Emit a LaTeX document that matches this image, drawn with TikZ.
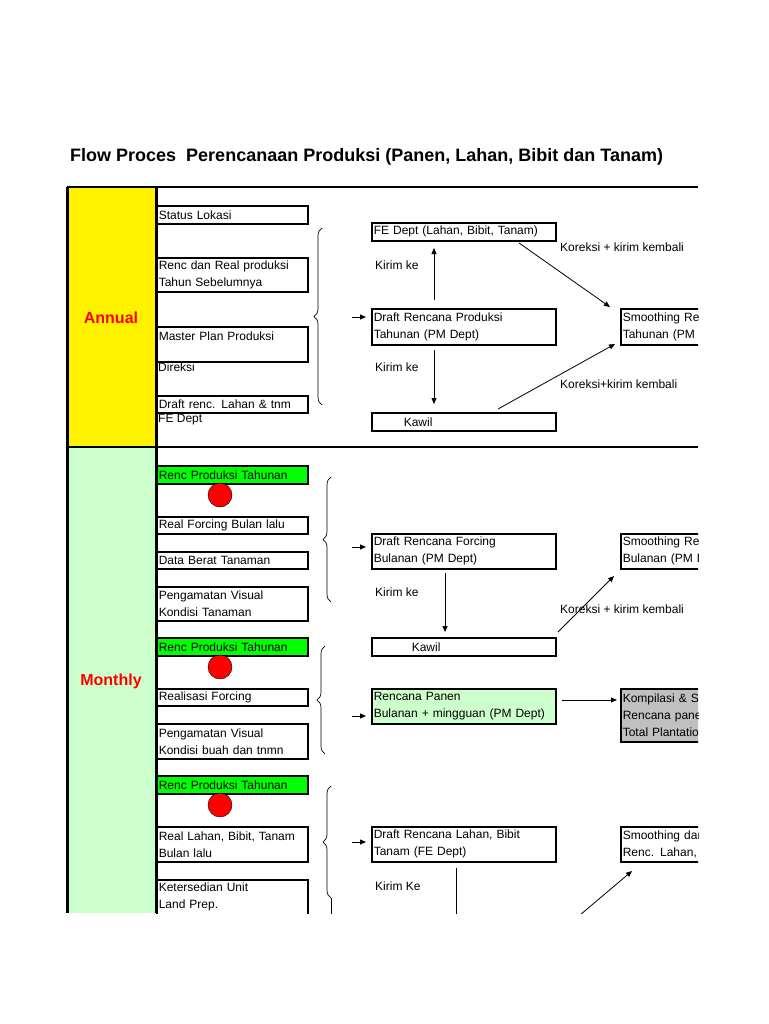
\documentclass[tikz,border=0pt]{standalone}
\usepackage{fontspec}
\setmainfont{Liberation Sans}
\usetikzlibrary{decorations.pathreplacing,arrows.meta}
\definecolor{lgreen}{RGB}{204,255,204}
\definecolor{bgreen}{RGB}{0,255,0}
\definecolor{gbox}{RGB}{192,192,192}
\begin{document}
\begin{tikzpicture}[x=1pt,y=-1pt,
  box/.style={draw,line width=1.6,anchor=north west,inner xsep=2,inner ysep=0,align=left,font=\fontsize{12}{17}\selectfont},
  lbl/.style={anchor=west,inner sep=0,font=\fontsize{12}{17}\selectfont},
  arr/.style={-{Triangle[length=6,width=5]},line width=0.8},
  brc/.style={decorate,decoration={brace,amplitude=8,mirror},line width=0.7},
  dot/.style={circle,draw,fill=red,minimum size=24,inner sep=0}]
\useasboundingbox (0,0) rectangle (768,1024);
\begin{scope}
\clip (0,0) rectangle (698,913);
\node[anchor=west,inner sep=0,font=\fontsize{18}{20}\bfseries\selectfont] (title) at (70,157) {Flow Proces\ \ Perencanaan Produksi (Panen, Lahan, Bibit dan Tanam)};
% columns
\fill[yellow] (67,187) rectangle (156,447);
\fill[lgreen] (67,447) rectangle (156,913);
\draw[line width=3] (67,187) -- (67,913) (156,187) -- (156,913);
\draw[line width=2.2] (67,187) -- (698,187) (67,447) -- (698,447);
\node[font=\fontsize{16}{18}\bfseries\selectfont,text=red] (annual) at (111,318) {Annual};
\node[font=\fontsize{16}{18}\bfseries\selectfont,text=red] (monthly) at (111,681) {Monthly};
% Annual
\node[box,text width=147,minimum height=18] (a1) at (156,205) {Status Lokasi};
\node[box,text width=147,minimum height=34] (a2) at (156,257) {Renc dan Real produksi\\Tahun Sebelumnya};
\node[box,text width=147,minimum height=35] (a3) at (156,326) {Master Plan Produksi\\\ };
\node[lbl] (dir) at (158,367) {Direksi};
\node[box,text width=147,minimum height=17] (a4) at (156,395) {Draft renc. Lahan \& tnm};
\node[lbl] (fed) at (158,420) {FE Dept};
\draw[brc] (322,228) -- (322,405);
\coordinate (ba) at (352,317);
\draw[arr] (ba) -- ++(14,0) coordinate (bae);
\node[box,text width=180,minimum height=18] (fe) at (371,222) {FE Dept (Lahan, Bibit, Tanam)};
\node[box,text width=180,minimum height=36] (dr) at (371,308) {Draft Rencana Produksi\\Tahunan (PM Dept)};
\node[box,text width=180,minimum height=18] (kw) at (371,412) {\hspace{30pt}Kawil};
\node[box,text width=180,minimum height=36] (sm) at (620,308) {Smoothing Rencana\\Tahunan (PM Dept)};
\draw[arr] (434,300) -- (434,248);
\draw[arr] (434,350) -- (434,404);
\node[lbl] at (375,265) {Kirim ke};
\node[lbl] at (375,367) {Kirim ke};
\draw[arr] (519,243) -- (610,307);
\draw[arr] (498,409) -- (615,344);
\node[lbl] at (560,247) {Koreksi + kirim kembali};
\node[lbl] at (560,384) {Koreksi+kirim kembali};
% Monthly group 1
\node[box,fill=bgreen,text width=147,minimum height=18] (g1) at (156,465) {Renc Produksi Tahunan};
\node[dot] (d1) at (220,495) {};
\node[box,text width=147,minimum height=17] (m1) at (156,516) {Real Forcing Bulan lalu};
\node[box,text width=147,minimum height=17] (m2) at (156,551) {Data Berat Tanaman};
\node[box,text width=147,minimum height=34] (m3) at (156,586) {Pengamatan Visual\\Kondisi Tanaman};
\draw[brc] (331,477) -- (331,602);
\draw[arr] (352,547) -- (366,547);
\node[box,text width=180,minimum height=35] (df) at (371,533) {Draft Rencana Forcing\\Bulanan (PM Dept)};
\node[box,text width=180,minimum height=35] (sf) at (620,533) {Smoothing Rencana\\Bulanan (PM Dept)};
\node[box,text width=180,minimum height=18] (kw2) at (371,637) {\hspace{38pt}Kawil};
\draw[arr] (445,573) -- (445,632);
\node[lbl] at (375,592) {Kirim ke};
\draw[arr] (558,632) -- (614,576);
\node[lbl] at (560,609) {Koreksi + kirim kembali};
% group 2
\node[box,fill=bgreen,text width=147,minimum height=18] (g2) at (156,637) {Renc Produksi Tahunan};
\node[dot] (d2) at (220,667) {};
\node[box,text width=147,minimum height=17] (m4) at (156,688) {Realisasi Forcing};
\node[box,text width=147,minimum height=35] (m5) at (156,723) {Pengamatan Visual\\Kondisi buah dan tnmn};
\draw[brc] (325,646) -- (325,754);
\draw[arr] (352,716) -- (366,716);
\node[box,fill=lgreen,text width=180,minimum height=35] (rp) at (371,688) {Rencana Panen\\Bulanan + mingguan (PM Dept)};
\node[box,fill=gbox,text width=180,minimum height=53] (kp) at (620,688) {Kompilasi \& Smoothing\\Rencana panen\\Total Plantation};
\draw[arr] (562,700) -- (617,700);
% group 3
\node[box,fill=bgreen,text width=147,minimum height=18] (g3) at (156,775) {Renc Produksi Tahunan};
\node[dot] (d3) at (220,805) {};
\node[box,text width=147,minimum height=35] (m6) at (156,826) {Real Lahan, Bibit, Tanam\\Bulan lalu};
\node[box,text width=147,minimum height=35] (m7) at (156,879) {Ketersedian Unit\\Land Prep.};
\draw[brc] (331,786) -- (331,898);
\draw[line width=0.7] (331,898) -- (331,915);
\draw[arr] (352,842) -- (366,842);
\node[box,text width=180,minimum height=35] (dl) at (371,826) {Draft Rencana Lahan, Bibit\\Tanam (FE Dept)};
\node[box,text width=180,minimum height=35] (sl) at (620,826) {Smoothing dan\\Renc. Lahan, Bibit};
\draw[line width=0.8] (456,868) -- (456,915);
\node[lbl] at (375,886) {Kirim Ke};
\draw[arr] (580,915) -- (632,871);
\end{scope}
\end{tikzpicture}
\end{document}
